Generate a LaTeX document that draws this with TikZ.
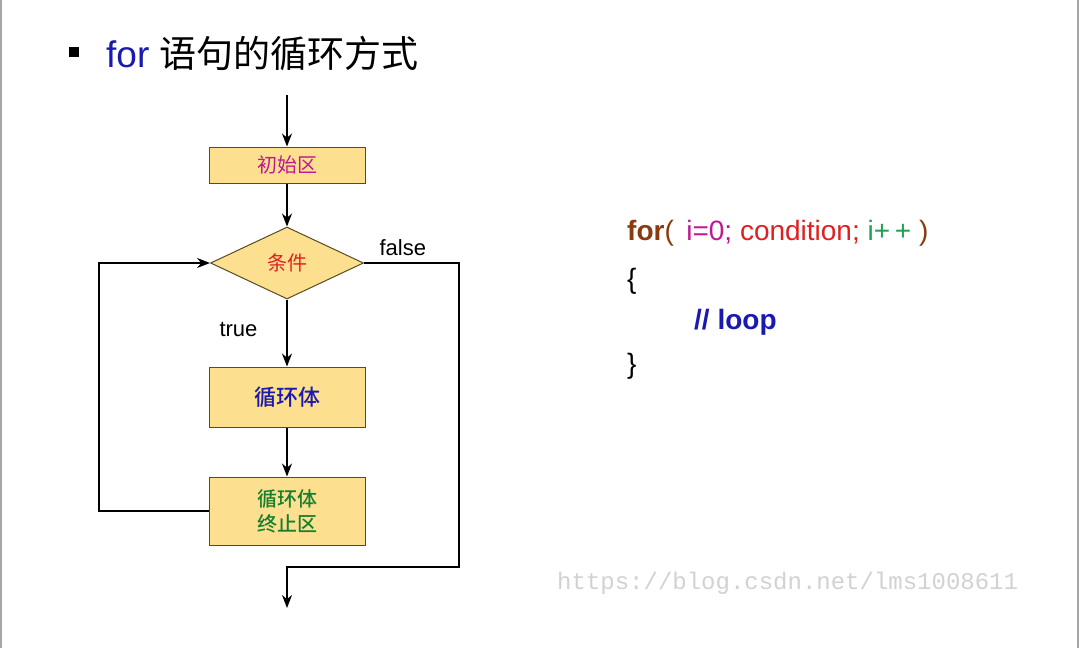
\documentclass[tikz,border=0pt]{standalone}
\usepackage{fontspec}
\setmainfont{Liberation Sans}
\newfontfamily\cjk{Noto Sans CJK SC}
\newfontfamily\cjkb{Noto Sans CJK SC Medium}
\usetikzlibrary{shapes.geometric,arrows.meta}
\definecolor{boxfill}{HTML}{FCE08F}
\definecolor{boxline}{HTML}{5A4A20}
\definecolor{forblue}{HTML}{1A1AB0}
\definecolor{brn}{HTML}{8B3A10}
\definecolor{mag}{HTML}{C01890}
\definecolor{cred}{HTML}{E02020}
\definecolor{cgreen}{HTML}{20A050}
\definecolor{dgreen}{HTML}{168030}
\begin{document}
\begin{tikzpicture}[x=1pt,y=-1pt,
  fbox/.style={draw=boxline,fill=boxfill,line width=1pt,minimum width=156pt,inner sep=0pt},
  arr/.style={-{Stealth[length=13pt,width=10pt]},line width=1.5pt},
  ln/.style={line width=1.5pt}]
\useasboundingbox (0,0) rectangle (1080,648);
\fill[white] (0,0) rectangle (1080,648);
\draw[gray!70,line width=1.5pt] (1,0)--(1,648) (1078,0)--(1078,648);
\fill (69,47) rectangle (79,57);
\node[anchor=west,inner sep=0pt] (title) at (106,53) {\fontsize{37}{40}\selectfont\textcolor{forblue}{for} \cjk 语句的循环方式};
\coordinate (top) at (287,95);
\node[fbox,minimum height=36pt] (init) at (287,165) {\fontsize{20}{22}\selectfont\cjk\textcolor{mag}{初始区}};
\node[diamond,aspect=2.1,draw=boxline,fill=boxfill,line width=1pt,minimum width=153pt,minimum height=72pt,inner sep=0pt] (cond) at (287,263) {\fontsize{20}{22}\selectfont\cjk\textcolor{cred}{条件}};
\node[fbox,minimum height=60pt] (body) at (287,397) {\fontsize{22}{24}\selectfont\cjkb\textcolor{forblue}{循环体}};
\node[fbox,minimum height=68pt,align=center,text=dgreen,font=\fontsize{20}{25}\selectfont\cjkb] (stopbox) at (287,511) {循环体\\终止区};
\coordinate (exit) at (287,608);
\draw[arr] (top) -- (init);
\draw[arr] (init) -- (cond);
\draw[arr] (cond) -- (body);
\draw[arr] (body) -- (stopbox);
\draw[arr] (stopbox.west) -- (99,511) -- (99,263) -- (cond.west);
\draw[ln] (cond.east) -- (459,263) -- (459,567) -- (287,567);
\draw[arr] (287,566.3) -- (exit);
\node[anchor=west] (fl) at (376,248) {\fontsize{22}{24}\selectfont false};
\node[anchor=west] (tr) at (216,329) {\fontsize{22}{24}\selectfont true};
\node[anchor=west,inner sep=0pt] (c1) at (627,233) {\fontsize{28}{32}\selectfont\textcolor{brn}{\textbf{for}(}\, \textcolor{mag}{i=0;} \textcolor{cred}{condition;} \textcolor{cgreen}{i+\,+} \textcolor{brn}{)}};
\node[anchor=west,inner sep=0pt] (c2) at (627,281) {\fontsize{28}{32}\selectfont\{};
\node[anchor=west,inner sep=0pt] (c3) at (694,322) {\fontsize{28}{32}\selectfont\textcolor{forblue}{\textbf{// loop}}};
\node[anchor=west,inner sep=0pt] (c4) at (627,366) {\fontsize{28}{32}\selectfont\}};
\node[anchor=west,inner sep=0pt] (wm) at (557,583) {\fontsize{24}{28}\selectfont\fontspec{Liberation Mono}\textcolor{gray!35}{https://blog.csdn.net/lms1008611}};
\end{tikzpicture}
\end{document}
